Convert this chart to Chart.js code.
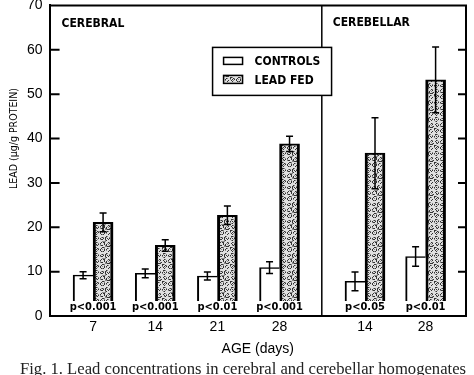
<!DOCTYPE html>
<html>
<head>
<meta charset="utf-8">
<script src="https://cdn.jsdelivr.net/npm/chart.js@4.4.1/dist/chart.umd.min.js"></script>
<style>
  html, body { margin: 0; padding: 0; background: #fff; }
  #wrap { width: 474px; height: 375px; overflow: hidden; }
  #leadChart { display: block; margin-top: -10px; }
</style>
</head>
<body>
<div id="wrap"><canvas id="leadChart" width="474" height="385"></canvas></div>
<script>
// values
const ageLabels = ["7", "14", "21", "28", "14", "28"];
const groupPos = [1.4, 3.4, 5.4, 7.4, 10.15, 12.1];   // position of each age group on the x axis
const dividerPos = 8.76;                              // cerebral | cerebellar split
const controls = [9.2, 9.6, 9.0, 10.9, 7.8, 13.4];
const controlsErr = [0.8, 1.0, 0.9, 1.3, 2.1, 2.2];
const leadFed = [21.1, 15.9, 22.7, 38.8, 36.7, 53.2];
const leadFedErr = [2.1, 1.3, 2.1, 1.7, 8.0, 7.4];
const pLabels = ["p<0.001", "p<0.001", "p<0.01", "p<0.001", "p<0.05", "p<0.01"];
const yTicks = [0, 10, 20, 30, 40, 50, 60, 70];
const barBase = 3.4;

const narrow = "'Liberation Sans Narrow', 'DejaVu Sans Condensed', sans-serif";
const condBold = "bold 11px 'DejaVu Sans Condensed', 'Liberation Sans Narrow', sans-serif";

// stippled fill for the lead fed bars (fixed speckle, no randomness)
function stipple() {
  const n = 17;
  const c = document.createElement("canvas");
  c.width = n; c.height = n;
  const g = c.getContext("2d");
  g.fillStyle = "#e0e0e0";
  g.fillRect(0, 0, n, n);
  for (let px = 0; px < n; px++) {
    for (let py = 0; py < n; py++) {
      const h = (px * 73 + py * 151 + px * py * 17) % 97;
      if (h < 22) { g.fillStyle = "#333"; g.fillRect(px, py, 1, 1); }
      else if (h < 34) { g.fillStyle = "#888"; g.fillRect(px, py, 1, 1); }
    }
  }
  return g.createPattern(c, "repeat");
}
const dots = stipple();

const decor = {
  id: "decor",
  afterDatasetsDraw(chart) {
    const { ctx, chartArea: a, scales: { x, y } } = chart;
    ctx.save();
    ctx.strokeStyle = "#000";
    ctx.fillStyle = "#000";

    // top + right frame
    ctx.lineWidth = 2;
    ctx.beginPath();
    ctx.moveTo(a.left, a.top);
    ctx.lineTo(a.right, a.top);
    ctx.lineTo(a.right, a.bottom);
    ctx.stroke();

    // divider
    const dx = x.getPixelForValue(dividerPos);
    ctx.lineWidth = 1.5;
    ctx.beginPath();
    ctx.moveTo(dx, a.top);
    ctx.lineTo(dx, a.bottom);
    ctx.stroke();

    // inward ticks
    ctx.lineWidth = 2;
    yTicks.forEach(v => {
      if (v === 0 || v === 70) return;
      const py = y.getPixelForValue(v);
      ctx.beginPath();
      ctx.moveTo(a.left, py); ctx.lineTo(a.left + 10, py);
      ctx.moveTo(a.right - 8, py); ctx.lineTo(a.right, py);
      ctx.stroke();
    });

    // error bars
    ctx.lineWidth = 1.5;
    [controlsErr, leadFedErr].forEach((errs, di) => {
      const meta = chart.getDatasetMeta(di);
      const vals = di === 0 ? controls : leadFed;
      meta.data.forEach((bar, j) => {
        const t = y.getPixelForValue(vals[j] + errs[j]);
        const b = y.getPixelForValue(vals[j] - errs[j]);
        ctx.beginPath();
        ctx.moveTo(bar.x, t); ctx.lineTo(bar.x, b);
        ctx.moveTo(bar.x - 3.5, t); ctx.lineTo(bar.x + 3.5, t);
        ctx.moveTo(bar.x - 3.5, b); ctx.lineTo(bar.x + 3.5, b);
        ctx.stroke();
      });
    });

    // p values under each pair
    ctx.font = condBold;
    ctx.textAlign = "center";
    ctx.textBaseline = "middle";
    groupPos.forEach((p, i) => {
      ctx.fillText(pLabels[i], x.getPixelForValue(p), a.bottom - 9);
    });

    // panel labels
    ctx.font = "bold 12px 'DejaVu Sans Condensed', sans-serif";
    ctx.textAlign = "left";
    ctx.fillText("CEREBRAL", a.left + 12, a.top + 18);
    ctx.fillText("CEREBELLAR", dx + 11, a.top + 17);

    // legend box
    const lx = a.left + 163, ly = a.top + 42, lw = 119, lh = 48;
    ctx.fillStyle = "#fff";
    ctx.fillRect(lx, ly, lw, lh);
    ctx.lineWidth = 1.5;
    ctx.strokeRect(lx, ly, lw, lh);
    ctx.fillStyle = "#fff";
    ctx.fillRect(lx + 11, ly + 10, 19, 7);
    ctx.strokeRect(lx + 11, ly + 10, 19, 7);
    ctx.fillStyle = dots;
    ctx.fillRect(lx + 11, ly + 28, 19, 8);
    ctx.strokeRect(lx + 11, ly + 28, 19, 8);
    ctx.fillStyle = "#000";
    ctx.font = "bold 12px 'DejaVu Sans Condensed', sans-serif";
    ctx.fillText("CONTROLS", lx + 42, ly + 14);
    ctx.fillText("LEAD FED", lx + 42, ly + 33);

    // y axis title
    ctx.save();
    ctx.translate(14, y.getPixelForValue(40));
    ctx.rotate(-Math.PI / 2);
    ctx.textAlign = "center";
    ctx.font = "10.5px " + narrow;
    ctx.fillText("LEAD (\u00b5g/g PROTEIN)", 0, 0);
    ctx.restore();

    ctx.restore();
  }
};

new Chart(document.getElementById("leadChart"), {
  type: "bar",
  data: {
    datasets: [{
      label: "CONTROLS",
      data: controls.map((v, i) => ({ x: groupPos[i], y: v })),
      backgroundColor: "#fff",
      borderColor: "#000",
      borderWidth: { left: 2, top: 1.5, right: 0, bottom: 0 },
      base: barBase,
      barThickness: 20,
    }, {
      label: "LEAD FED",
      data: leadFed.map((v, i) => ({ x: groupPos[i], y: v })),
      backgroundColor: dots,
      borderColor: "#000",
      borderWidth: { left: 3, top: 2, right: 3, bottom: 0 },
      base: barBase,
      barThickness: 20,
    }],
  },
  options: {
    responsive: false,
    animation: false,
    layout: { padding: { left: 20, right: 8, top: 0, bottom: -5 } },
    plugins: {
      legend: { display: false },
      tooltip: { enabled: false },
      title: {
        display: true,
        text: "Fig. 1. Lead concentrations in cerebral and cerebellar homogenates",
        position: "bottom",
        align: "start",
        color: "#222",
        font: { family: "'Liberation Serif', serif", size: 17, weight: "normal" },
        padding: { top: 0, bottom: 0 },
      },
    },
    scales: {
      x: {
        type: "linear",
        min: 0,
        max: 13.4,
        offset: false,
        grid: { display: false, drawTicks: false, tickLength: 0 },
        border: { display: true, color: "#000", width: 2 },
        afterBuildTicks: s => { s.ticks = groupPos.map(v => ({ value: v })); },
        ticks: {
          autoSkip: false,
          maxRotation: 0,
          padding: 3,
          color: "#000",
          font: { family: "'Liberation Sans', sans-serif", size: 14 },
          callback: (v, i) => ageLabels[i],
        },
        title: {
          display: true,
          text: "AGE (days)",
          color: "#000",
          font: { family: "'Liberation Sans', sans-serif", size: 14 },
          padding: { top: 2, bottom: 2 },
        },
      },
      y: {
        min: 0,
        max: 70,
        grid: { display: false, drawTicks: false, tickLength: 0 },
        border: { display: true, color: "#000", width: 2 },
        afterBuildTicks: s => { s.ticks = yTicks.map(v => ({ value: v })); },
        ticks: {
          padding: 7,
          color: "#000",
          font: { family: "'Liberation Sans', sans-serif", size: 14 },
        },
      },
    },
  },
  plugins: [decor],
});
</script>
</body>
</html>
